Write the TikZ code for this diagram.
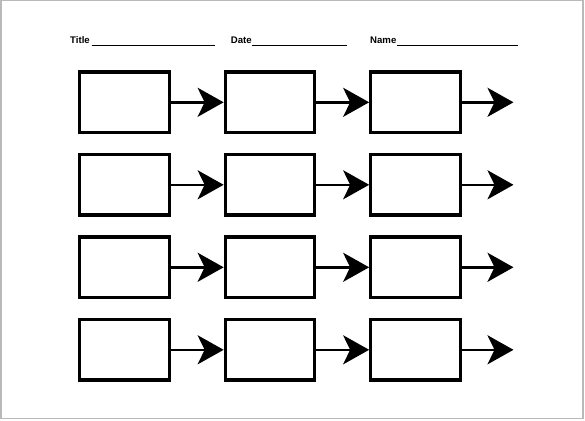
\documentclass[tikz,border=0pt]{standalone}
\usepackage{fontspec}
\setmainfont{Liberation Sans}
\usetikzlibrary{arrows.meta}
\begin{document}
\begin{tikzpicture}[x=1pt,y=-1pt,
  cell/.style={draw=black,line width=3.2pt,minimum width=89.5pt,minimum height=60.5pt,inner sep=0pt,fill=white},
  flow/.style={line width=2.6pt,-{Stealth[length=26pt,width=29pt,inset=7pt]}},
  lbl/.style={anchor=base west,inner sep=0pt,font=\fontsize{9.6}{11}\selectfont\bfseries},
  blank/.style={line width=1.2pt}]
\useasboundingbox (0,0) rectangle (585,420);
\draw[gray!55,line width=1.2pt] (1,0.8) rectangle (583,418.5);
\node[lbl] (title) at (70,43.8) {Title};
\node[lbl] (date) at (230.7,43.8) {Date};
\node[lbl] (name) at (370,43.8) {Name};
\draw[blank] (91.5,45.3) -- (215,45.3);
\draw[blank] (252,45.3) -- (347,45.3);
\draw[blank] (397,45.3) -- (517.5,45.3);
\foreach \r/\y in {1/102.3,2/184.8,3/267.3,4/349.8}{
  \node[cell] (a\r) at (124.5,\y) {};
  \node[cell] (b\r) at (270,\y) {};
  \node[cell] (c\r) at (415.5,\y) {};
  \coordinate (e\r) at (513.5,\y);
  \draw[flow] (a\r) -- (b\r);
  \draw[flow] (b\r) -- (c\r);
  \draw[flow] (c\r) -- (e\r);
}
\end{tikzpicture}
\end{document}
